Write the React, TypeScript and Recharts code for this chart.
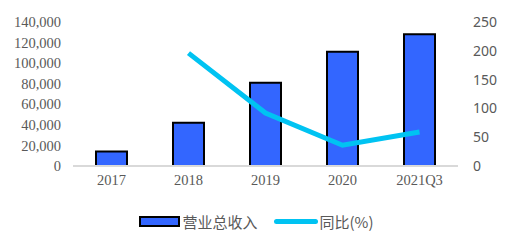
import { Bar, ComposedChart, Legend, Line, XAxis, YAxis } from 'recharts';

const YEARS = ['2017', '2018', '2019', '2020', '2021Q3'];
const REVENUE = [14000, 42000, 81000, 111000, 128000];
const YOY = [null, 196, 92, 36, 59];
const LEFT_TICKS = [0, 20000, 40000, 60000, 80000, 100000, 120000, 140000];
const RIGHT_TICKS = [0, 50, 100, 150, 200, 250];

const BAR_COLOR = '#3366ff';
const LINE_COLOR = '#00c3f2';
const TEXT = '#595959';

const data = YEARS.map((year, i) => ({ year, revenue: REVENUE[i], yoy: YOY[i] }));

function ChartLegend() {
  return (
    <div
      style={{
        display: 'flex',
        justifyContent: 'center',
        alignItems: 'center',
        fontFamily: '"Noto Sans CJK SC", sans-serif',
        fontSize: 15,
        color: TEXT,
        paddingLeft: 4,
        paddingTop: 3,
      }}
    >
      <span
        style={{
          display: 'inline-block',
          width: 37,
          height: 7,
          background: BAR_COLOR,
          border: '2px solid #000',
          marginRight: 3,
        }}
      />
      <span>营业总收入</span>
      <span
        style={{
          display: 'inline-block',
          width: 44,
          height: 5,
          borderRadius: 3,
          background: LINE_COLOR,
          marginLeft: 16,
          marginRight: 2,
        }}
      />
      <span>同比(%)</span>
    </div>
  );
}

export default function App() {
  return (
    <div style={{ position: 'absolute', left: 0, top: 0, background: '#fff' }}>
      <ComposedChart
        width={508}
        height={247}
        data={data}
        margin={{ top: 22, right: 0, bottom: 0, left: 0 }}
      >
        <XAxis
          dataKey="year"
          axisLine={{ stroke: '#d9d9d9', strokeWidth: 2 }}
          tickLine={false}
          tickSize={0}
          tickMargin={9}
          height={42}
          tick={{ fontSize: 14.5, fill: TEXT, fontFamily: '"Liberation Serif", serif' }}
        />
        <YAxis
          yAxisId="left"
          domain={[0, 140000]}
          ticks={LEFT_TICKS}
          width={73}
          axisLine={false}
          tickLine={false}
          tickSize={0}
          tickMargin={12}
          interval={0}
          tickFormatter={(v) => Number(v).toLocaleString('en-US')}
          tick={{ fontSize: 14.5, fill: TEXT, fontFamily: '"Liberation Serif", serif' }}
        />
        <YAxis
          yAxisId="right"
          orientation="right"
          domain={[0, 250]}
          ticks={RIGHT_TICKS}
          width={50}
          axisLine={false}
          tickLine={false}
          tickSize={0}
          tickMargin={15}
          interval={0}
          tick={{ fontSize: 14, fill: TEXT, fontFamily: '"Noto Sans", sans-serif' }}
        />
        <Legend verticalAlign="bottom" height={39} content={() => <ChartLegend />} />
        <Bar
          yAxisId="left"
          dataKey="revenue"
          name="营业总收入"
          barSize={31}
          fill={BAR_COLOR}
          stroke="#000"
          strokeWidth={2}
          isAnimationActive={false}
        />
        <Line
          yAxisId="right"
          dataKey="yoy"
          name="同比(%)"
          type="linear"
          stroke={LINE_COLOR}
          strokeWidth={5}
          dot={false}
          isAnimationActive={false}
        />
      </ComposedChart>
    </div>
  );
}
